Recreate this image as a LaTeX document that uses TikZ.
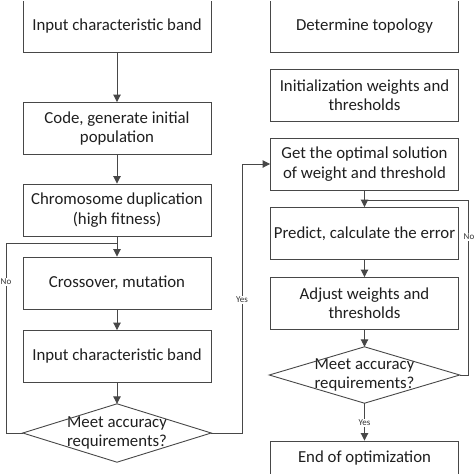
\documentclass[tikz,border=0pt]{standalone}
\usepackage{fontspec}
\setmainfont{Carlito}
\usetikzlibrary{arrows.meta}

\begin{document}
\begin{tikzpicture}[x=1pt,y=-1pt,
    box/.style={draw=black!72, line width=0.9pt, fill=white, text=black!88,
        minimum width=188pt, minimum height=52pt, inner sep=0pt, align=center,
        font=\fontsize{16.8}{19.4}\selectfont},
    decision/.style={minimum width=188pt, minimum height=58pt, inner sep=0pt,
        align=center, text=black!88, font=\fontsize{16.8}{19.4}\selectfont},
    line/.style={draw=black!72, line width=0.9pt},
    arrow/.style={line, -{Triangle[length=7.5pt,width=7.5pt]}},
    tag/.style={fill=white, inner sep=1pt, text=black!80, font=\fontsize{9}{10}\selectfont}]
    \useasboundingbox (0,0) rectangle (474,474);
    \clip (0,1) rectangle (474,474);
    % Left column
    \node[box] (band) at (117,26) {Input characteristic band};
    \node[box] (code) at (117,128.5) {Code, generate initial\\population};
    \node[box] (dup) at (117,210) {Chromosome duplication\\(high fitness)};
    \node[box] (cross) at (117,283) {Crossover, mutation};
    \node[box] (band2) at (117,356.5) {Input characteristic band};
    \node[decision] (meet) at (117,433) {Meet accuracy\\requirements?};
    \draw[line] (meet.north) -- (meet.east) -- (meet.south) -- (meet.west) -- cycle;
    % Right column
    \node[box] (topo) at (364.5,26) {Determine topology};
    \node[box] (init) at (364.5,95) {Initialization weights and\\thresholds};
    \node[box] (optim) at (364.5,164) {Get the optimal solution\\of weight and threshold};
    \node[box] (predict) at (364.5,233.5) {Predict, calculate the error};
    \node[box] (adjust) at (364.5,303.5) {Adjust weights and\\thresholds};
    \node[decision, minimum height=56pt, minimum width=190pt] (meet2) at (364.5,375) {Meet accuracy\\requirements?};
    \draw[line] (meet2.north) -- (meet2.east) -- (meet2.south) -- (meet2.west) -- cycle;
    \node[box, text depth=21pt] (finish) at (364.5,467) {End of optimization};
    % Left arrows
    \draw[arrow] (band) -- (code);
    \draw[arrow] (code) -- (dup);
    \draw[arrow] (dup) -- (cross);
    \draw[arrow] (cross) -- (band2);
    \draw[arrow] (band2) -- (meet);
    % No loop
    \coordinate (join) at (117,243);
    \draw[line] (meet.west) -- (6,433) -- (6,243) -- (join);
    \node[tag] (no) at (6,282) {No};
    % Yes to right column
    \draw[arrow] (meet.east) -- (242,433) -- (242,164) -- (optim.west);
    \node[tag] (yes) at (242,300) {Yes};
    % Right arrows
    \draw[arrow] (optim) -- (predict);
    \draw[arrow] (predict) -- (adjust);
    \draw[arrow] (adjust) -- (meet2);
    \draw[arrow] (meet2) -- (finish);
    \node[tag] (yes2) at (364.5,423) {Yes};
    % No loop right
    \coordinate (join2) at (364.5,200);
    \draw[line] (meet2.east) -- (468,375) -- (468,200) -- (join2);
    \node[tag] (no2) at (469,237) {No};
\end{tikzpicture}
\end{document}
